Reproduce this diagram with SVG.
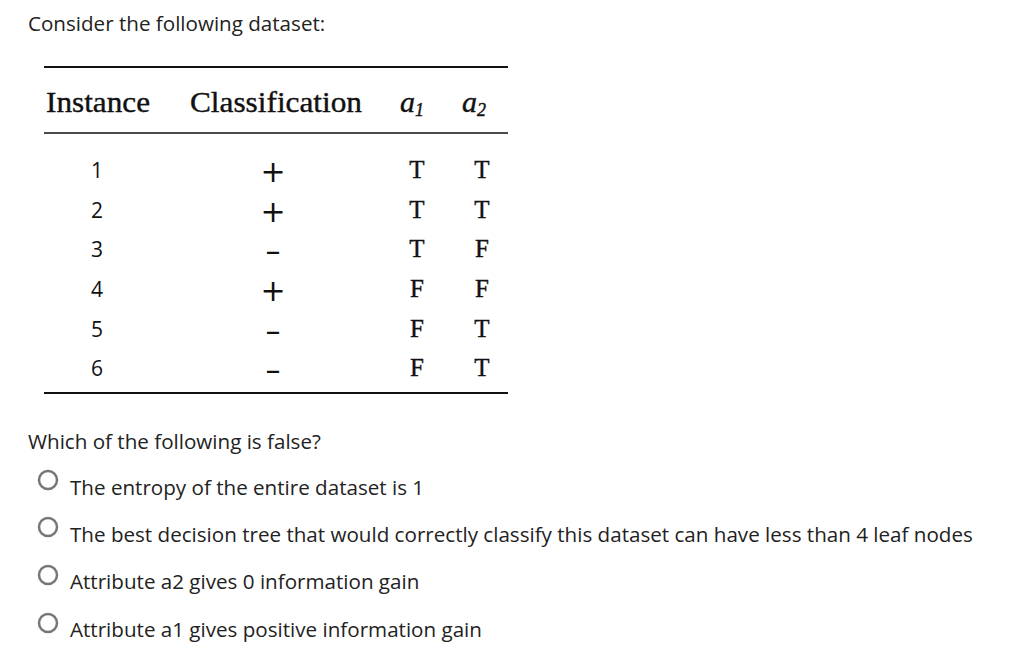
<svg xmlns="http://www.w3.org/2000/svg" width="1024" height="671" viewBox="0 0 1024 671">
<style>
.s{font-family:"Open Sans","Liberation Sans",sans-serif;font-size:20.6px;fill:#222}
.h{font-family:"Liberation Serif",serif;font-size:30px;fill:#111;stroke:#111;stroke-width:0.4}
.c{font-family:"Liberation Serif",serif;font-size:25px;fill:#111;text-anchor:middle;stroke:#111;stroke-width:0.4}
.p{font-family:"DejaVu Sans",sans-serif;font-size:30px;fill:#111;text-anchor:middle}
.n{font-family:"Open Sans","Liberation Sans",sans-serif;font-size:21px;fill:#111;text-anchor:middle}
.r{fill:#fff;stroke:#777;stroke-width:2.5}
.l{stroke:#111}
</style>
<rect width="1024" height="671" fill="#fff"/>
<text class="s" x="28" y="31">Consider the following dataset:</text>
<line class="l" x1="44" y1="67" x2="508" y2="67" stroke-width="2"/>
<line class="l" x1="44" y1="133" x2="508" y2="133" stroke-width="1.5"/>
<line class="l" x1="44" y1="393" x2="508" y2="393" stroke-width="2"/>
<text class="h" x="46" y="112" textLength="104" lengthAdjust="spacingAndGlyphs">Instance</text>
<text class="h" x="190" y="112" textLength="172" lengthAdjust="spacingAndGlyphs">Classification</text>
<text class="h" x="400" y="112" font-style="italic" font-size="26">a<tspan font-size="18" dy="4">1</tspan></text>
<text class="h" x="462" y="112" font-style="italic" font-size="26">a<tspan font-size="18" dy="4">2</tspan></text>
<g>
<text class="n" x="97" y="178">1</text><text class="n" x="97" y="218">2</text><text class="n" x="97" y="257">3</text>
<text class="n" x="97" y="297">4</text><text class="n" x="97" y="337">5</text><text class="n" x="97" y="376">6</text>
<text class="p" x="273" y="182">+</text><text class="p" x="273" y="222">+</text><text class="p" x="273" y="261">–</text>
<text class="p" x="273" y="301">+</text><text class="p" x="273" y="341">–</text><text class="p" x="273" y="380">–</text>
<text class="c" x="417" y="178">T</text><text class="c" x="417" y="218">T</text><text class="c" x="417" y="257">T</text>
<text class="c" x="417" y="297">F</text><text class="c" x="417" y="337">F</text><text class="c" x="417" y="376">F</text>
<text class="c" x="482" y="178">T</text><text class="c" x="482" y="218">T</text><text class="c" x="482" y="257">F</text>
<text class="c" x="482" y="297">F</text><text class="c" x="482" y="337">T</text><text class="c" x="482" y="376">T</text>
</g>
<text class="s" x="28" y="449">Which of the following is false?</text>
<circle class="r" cx="48" cy="480" r="9"/><text class="s" x="70" y="495">The entropy of the entire dataset is 1</text>
<circle class="r" cx="48" cy="527" r="9"/><text class="s" x="70" y="542">The best decision tree that would correctly classify this dataset can have less than 4 leaf nodes</text>
<circle class="r" cx="48" cy="575" r="9"/><text class="s" x="70" y="589">Attribute a2 gives 0 information gain</text>
<circle class="r" cx="48" cy="623" r="9"/><text class="s" x="70" y="637">Attribute a1 gives positive information gain</text>
</svg>
